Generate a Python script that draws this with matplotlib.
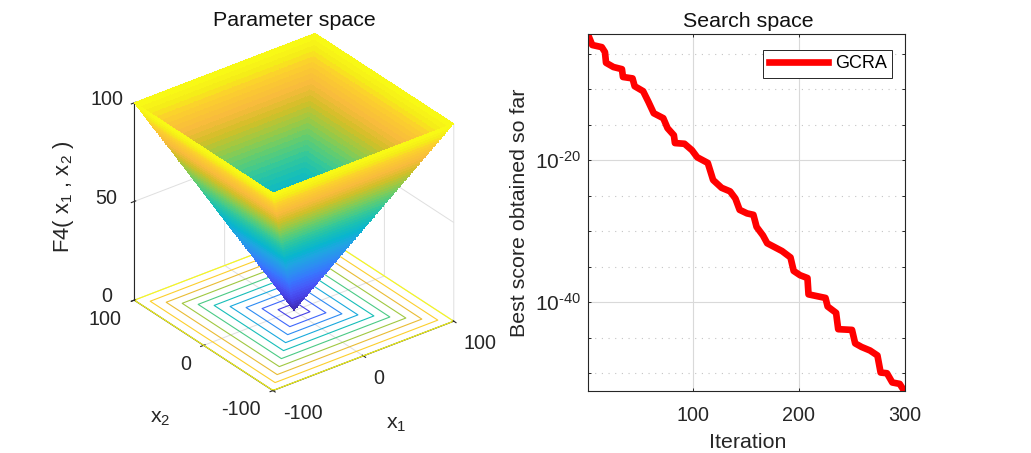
import numpy as np
import matplotlib
matplotlib.use('Agg')
import matplotlib.pyplot as plt
from matplotlib.colors import LinearSegmentedColormap
from matplotlib.ticker import FixedLocator, FixedFormatter, NullFormatter
from matplotlib.transforms import Affine2D

plt.rcParams['font.family'] = ['Liberation Sans', 'DejaVu Sans']
plt.rcParams['mathtext.fontset'] = 'custom'
plt.rcParams['mathtext.rm'] = 'Liberation Sans'
plt.rcParams['mathtext.it'] = 'Liberation Sans'
plt.rcParams['mathtext.default'] = 'regular'
plt.rcParams['axes.unicode_minus'] = False

# ---- data ----
iterations = [1, 2, 5, 14, 17, 18, 25, 33, 34, 43, 45, 53, 58, 63, 72, 76, 82, 83, 92, 99,
              104, 114, 119, 127, 135, 140, 144, 151, 157, 160, 166, 170, 184, 192, 195,
              201, 208, 209, 225, 227, 235, 237, 250, 253, 259, 267, 274, 277, 283, 288,
              295, 298, 300]
best_exponent = [-2.3, -2.7, -3.8, -4.1, -4.8, -6.3, -6.9, -7.2, -8.3, -8.5, -9.6, -10.3,
                 -11.8, -13.4, -14.1, -15.5, -16.5, -17.6, -17.7, -18.6, -19.6, -20.4, -22.8,
                 -23.9, -24.4, -25.4, -27.0, -27.5, -27.7, -29.4, -30.6, -31.7, -32.8, -33.7,
                 -35.6, -36.2, -36.6, -38.9, -39.4, -40.6, -41.5, -43.8, -43.9, -45.8, -46.3,
                 -46.8, -47.5, -49.9, -50.0, -51.3, -51.5, -52.2, -52.6]
contour_levels = [10, 20, 30, 40, 50, 60, 70, 80, 90, 99.9]
x_ticks_3d = [-100, 0, 100]
z_ticks_3d = [0, 50, 100]
color_stops = [0, 6, 10, 15, 19, 24, 28, 32, 36, 40, 44, 48, 52, 57, 60, 63]
parula_colors = [(0.2422, 0.1504, 0.6603), (0.2783, 0.2559, 0.8991), (0.2795, 0.3447, 0.9717),
                 (0.2206, 0.4603, 0.9973), (0.1764, 0.5499, 0.9520), (0.1248, 0.6459, 0.8883),
                 (0.0297, 0.7082, 0.8163), (0.0964, 0.7500, 0.7120), (0.2161, 0.7843, 0.5923),
                 (0.3909, 0.8029, 0.4354), (0.6174, 0.7876, 0.2612), (0.8203, 0.7498, 0.1535),
                 (0.9728, 0.7298, 0.2394), (0.9892, 0.8134, 0.1760), (0.9597, 0.9290, 0.0943),
                 (0.9769, 0.9839, 0.0805)]
parula = LinearSegmentedColormap.from_list(
    'parula', [(s / 63, c) for s, c in zip(color_stops, parula_colors)], N=256)

W, H = 1031, 453
TICK = 14.2
LABEL = 15.4
DARK = '#262626'
fig = plt.figure(figsize=(W / 100, H / 100), dpi=100, facecolor='white')

# ---- left: parameter space ----
side = 400
ax = fig.add_axes([88.6 / W, 35.6 / H, side / W, side / H], projection='3d')
ax.set_proj_type('ortho')
ax.view_init(elev=30, azim=-127.5)
ax.set_box_aspect((1, 1, 1), zoom=0.958)
ax.computed_zorder = False
ax.patch.set_alpha(0)

grid = np.arange(-100, 101, 2)
X, Y = np.meshgrid(grid, grid)
Z = np.maximum(np.abs(X), np.abs(Y))
ax.contour(X, Y, Z, levels=contour_levels, zdir='z', offset=0, cmap=parula, vmin=0, vmax=100,
           linewidths=0.8, zorder=1)
ax.plot_surface(X, Y, Z, rstride=1, cstride=1, cmap=parula, vmin=0, vmax=100, linewidth=0,
                antialiased=False, shade=False, zorder=2)
ax.set_xlim(-100, 100)
ax.set_ylim(-100, 100)
ax.set_zlim(0, 100)
ax.set_xticks(x_ticks_3d)
ax.set_yticks(x_ticks_3d)
ax.set_zticks(z_ticks_3d)
ax.tick_params(labelsize=TICK, pad=4, colors=DARK)
ax.zaxis.set_tick_params(pad=5)
for axis in (ax.xaxis, ax.yaxis, ax.zaxis):
    axis.set_pane_color((1, 1, 1, 0))
    axis.pane.set_edgecolor((1, 1, 1, 0))
    axis.line.set_color(DARK)
    axis.line.set_linewidth(0.8)
    axis._axinfo['grid']['color'] = '#dfdfdf'
    axis._axinfo['grid']['linewidth'] = 0.7
    axis.set_rotate_label(False)


def pin_offset(text, dx, dy):
    # Axis3D resets text transforms when it draws, so pin a small pixel offset.
    text._transform = ax.transData + Affine2D().translate(dx, dy)
    text.set_transform = lambda *_: None


def nudge_tick_labels(axis, dx, dy, ha=None):
    for tick in axis.get_major_ticks():
        label = tick.label1
        if ha:
            label.set_ha(ha)
        label.set_va('baseline')
        pin_offset(label, dx, dy)


nudge_tick_labels(ax.xaxis, -1, -5, 'left')
nudge_tick_labels(ax.yaxis, 2, -3.5, 'right')
nudge_tick_labels(ax.zaxis, 0, -4)
ax.set_xlabel('x$_1$', fontsize=LABEL, color=DARK, labelpad=15, rotation=0)
ax.set_ylabel('x$_2$', fontsize=LABEL, color=DARK, labelpad=15, rotation=0)
ax.set_zlabel('F4( x$_1$ , x$_2$ )', fontsize=15.8, color=DARK, labelpad=12, rotation=90)
ax.yaxis._axinfo['label']['va'] = 'top'
pin_offset(ax.zaxis.label, 0, -6)
fig.text(294.5 / W, 1 - 20 / H, 'Parameter space', fontsize=LABEL, ha='center', va='center', color='#111111')

# ---- right: search space ----
ax2 = fig.add_axes([588 / W, 1 - 391 / H, 317 / W, 357 / H])
values = [10.0 ** e for e in best_exponent]
ax2.semilogy(iterations, values, color='#ff0000', lw=4.8, solid_joinstyle='round', label='GCRA', clip_on=True)
ax2.set_xlim(1, 300)
ax2.set_ylim(10.0 ** -52.5, 10.0 ** -2.25)
ax2.set_xticks([100, 200, 300])
ax2.yaxis.set_major_locator(FixedLocator([1e-20, 1e-40]))
ax2.yaxis.set_major_formatter(FixedFormatter(['$10^{\u201020}$', '$10^{\u201040}$']))
ax2.yaxis.set_minor_locator(FixedLocator([10.0 ** e for e in (-5, -10, -15, -25, -30, -35, -45, -50)]))
ax2.yaxis.set_minor_formatter(NullFormatter())
ax2.grid(True, which='major', color='#d9d9d9', lw=0.8)
ax2.grid(True, which='minor', axis='y', color='#c4c4c4', lw=0.8, ls=(0, (1, 5)))
ax2.set_axisbelow(True)
ax2.tick_params(which='both', direction='in', top=True, right=True, length=2.5, width=0.7, labelsize=TICK,
                colors=DARK)
ax2.tick_params(axis='x', pad=10.5)
ax2.tick_params(axis='y', pad=5, labelsize=15)
for s in ax2.spines.values():
    s.set_linewidth(0.8)
    s.set_color(DARK)
ax2.set_xlabel('Iteration', fontsize=LABEL, color=DARK)
ax2.xaxis.set_label_coords(0.5 + 1.5 / 317, -0.117)
ax2.set_ylabel('Best score obtained so far', fontsize=LABEL, color=DARK, labelpad=4)
ax2.set_title('Search space', fontsize=LABEL, color='#111111', pad=5, x=0.5 + 1.5 / 317)
leg = ax2.legend(loc='upper right', bbox_to_anchor=(892 / W, 1 - 50 / H), bbox_transform=fig.transFigure,
                 fontsize=13, frameon=True, fancybox=False, edgecolor=DARK, framealpha=1,
                 borderaxespad=0, handlelength=3.3, borderpad=0.3, handletextpad=0.35)
leg.get_frame().set_linewidth(0.7)

fig.savefig('out.png', dpi=100)
